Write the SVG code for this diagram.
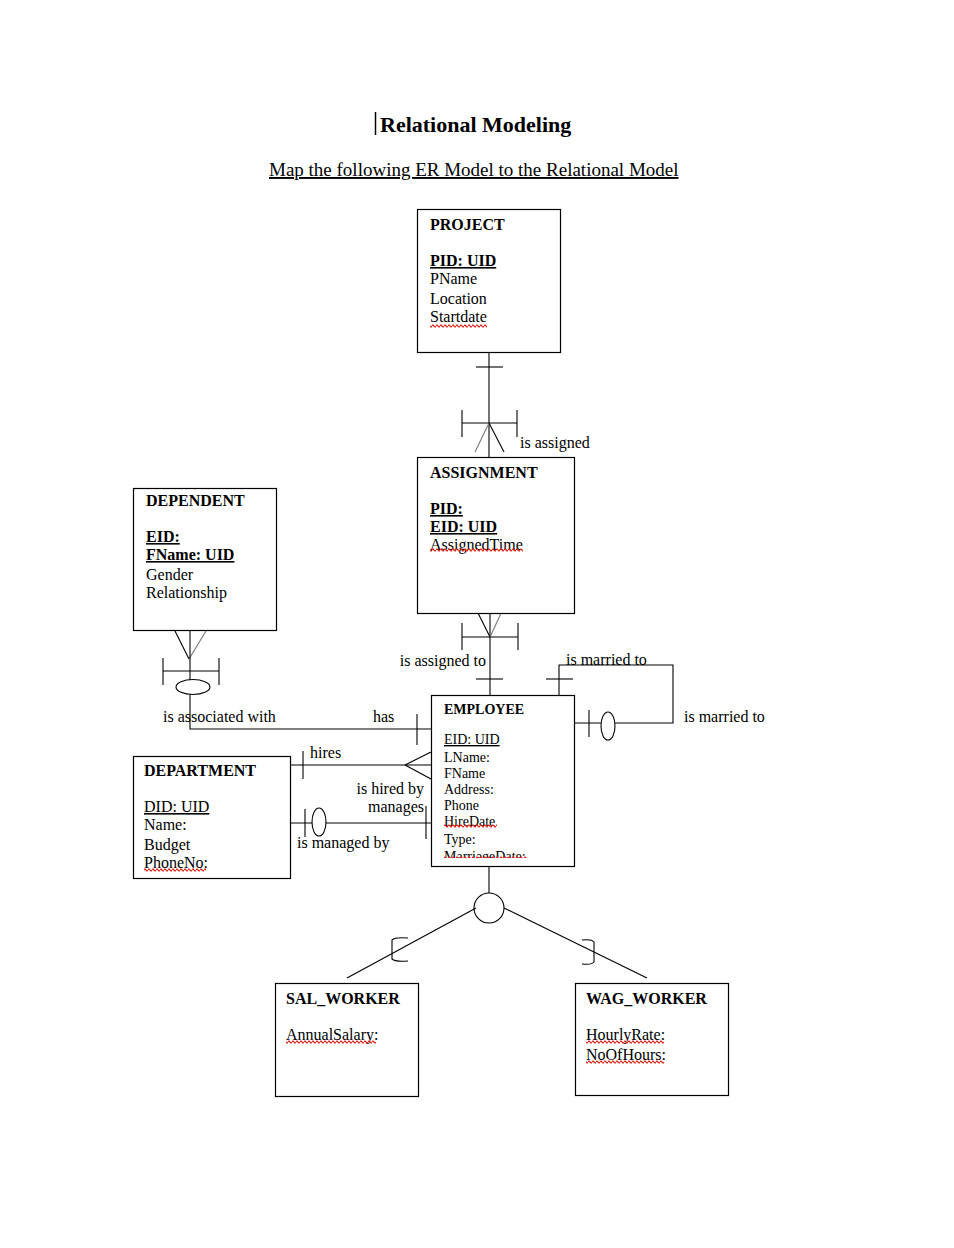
<svg xmlns="http://www.w3.org/2000/svg" width="954" height="1248" viewBox="0 0 954 1248">
<style>
text{font-family:"Liberation Serif","Times New Roman",serif;fill:#000}
.t16{font-size:16px}
.t14{font-size:14px}
.b{font-weight:bold}
.u{text-decoration:underline}
.box{fill:#fff;stroke:#000;stroke-width:1.2}
.ln{stroke:#000;stroke-width:1.1;fill:none}
.gr{stroke:#777;stroke-width:1.1;fill:none}
.sq{fill:url(#sqp)}
</style>
<defs>
<pattern id="sqp" x="0" y="0" width="4" height="4" patternUnits="userSpaceOnUse">
<path d="M0 2 Q1 0.2 2 2 T4 2" fill="none" stroke="#e2231a" stroke-width="1.4"/>
</pattern>
<clipPath id="empclip"><rect x="431" y="695" width="144" height="163"/></clipPath>
</defs>
<rect width="954" height="1248" fill="#fff"/>

<g id="title">
<line x1="375.5" y1="112" x2="375.5" y2="135" stroke="#000" stroke-width="1.5"/>
<text x="380" y="132" class="b" style="font-size:22px">Relational Modeling</text>
<text x="269" y="176" class="u" style="font-size:19px">Map the following ER Model to the Relational Model</text>
</g>

<g id="connectors">
<line class="ln" x1="489" y1="352" x2="489" y2="457"/>
<line class="ln" x1="476" y1="367" x2="503" y2="367"/>
<line class="ln" x1="462" y1="423" x2="517" y2="423"/>
<line class="ln" x1="462" y1="410" x2="462" y2="437"/>
<line class="ln" x1="517" y1="410" x2="517" y2="437"/>
<line class="gr" x1="489" y1="423" x2="475" y2="452"/>
<line class="ln" x1="489" y1="423" x2="504" y2="452"/>
<line class="ln" x1="490" y1="613" x2="490" y2="695"/>
<line class="ln" x1="476" y1="609" x2="490" y2="637"/>
<line class="gr" x1="503" y1="609" x2="490" y2="637"/>
<line class="ln" x1="462" y1="637" x2="518" y2="637"/>
<line class="ln" x1="462" y1="623" x2="462" y2="650"/>
<line class="ln" x1="518" y1="623" x2="518" y2="650"/>
<line class="ln" x1="476" y1="679" x2="503" y2="679"/>
<polyline class="ln" points="559,695 559,665 673,665 673,723 575,723"/>
<line class="ln" x1="546" y1="679" x2="573" y2="679"/>
<line class="ln" x1="589" y1="710" x2="589" y2="737"/>
<ellipse class="ln" cx="608" cy="726" rx="7" ry="14" style="fill:#fff"/>
<line class="ln" x1="175" y1="631" x2="189" y2="659"/>
<line class="gr" x1="206" y1="631" x2="189" y2="659"/>
<line class="ln" x1="190" y1="630" x2="190" y2="680"/>
<line class="ln" x1="163" y1="671" x2="219" y2="671"/>
<line class="ln" x1="163" y1="658" x2="163" y2="685"/>
<line class="ln" x1="219" y1="658" x2="219" y2="685"/>
<ellipse class="ln" cx="193" cy="687" rx="17" ry="7.5"/>
<polyline class="ln" points="190,695 190,729 431,729"/>
<line class="ln" x1="417" y1="714" x2="417" y2="745"/>
<line class="ln" x1="291" y1="765" x2="431" y2="765"/>
<line class="ln" x1="303" y1="751" x2="303" y2="779"/>
<line class="ln" x1="405" y1="765" x2="431" y2="752"/>
<line class="ln" x1="405" y1="765" x2="431" y2="779"/>
<line class="ln" x1="291" y1="823" x2="431" y2="823"/>
<line class="ln" x1="305" y1="809" x2="305" y2="837"/>
<ellipse class="ln" cx="319" cy="822" rx="7" ry="14" style="fill:#fff"/>
<line class="ln" x1="426" y1="806" x2="426" y2="839"/>
<line class="ln" x1="489" y1="866" x2="489" y2="893"/>
<circle class="ln" cx="489" cy="908" r="15"/>
<line class="ln" x1="476" y1="908" x2="347" y2="978"/>
<line class="ln" x1="504" y1="908" x2="647" y2="978"/>
<path class="ln" d="M408 938 Q395 937 392 940 L392 959 Q395 962 408 961"/>
<path class="ln" d="M582 940 Q592 939 594 942 L594 962 Q592 965 582 964"/>
</g>

<g id="labels">
<text x="520" y="448" class="t16">is assigned</text>
<text x="486" y="666" class="t16" text-anchor="end">is assigned to</text>
<text x="566" y="665" class="t16">is married to</text>
<text x="684" y="722" class="t16">is married to</text>
<text x="163" y="722" class="t16">is associated with</text>
<text x="373" y="722" class="t16">has</text>
<text x="310" y="758" class="t16">hires</text>
<text x="424" y="794" class="t16" text-anchor="end">is hired by</text>
<text x="424" y="812" class="t16" text-anchor="end">manages</text>
<text x="297" y="848" class="t16">is managed by</text>
</g>

<g id="project">
<rect class="box" x="417.5" y="209.5" width="143" height="143"/>
<text x="430" y="230" class="t16 b">PROJECT</text>
<text x="430" y="266" class="t16 b u">PID: UID</text>
<text x="430" y="284" class="t16">PName</text>
<text x="430" y="304" class="t16">Location</text>
<text x="430" y="322" class="t16">Startdate</text>
<rect class="sq" x="430" y="324" width="57" height="4"/>
</g>

<g id="assignment">
<rect class="box" x="417.5" y="457.5" width="157" height="156"/>
<text x="430" y="478" class="t16 b">ASSIGNMENT</text>
<text x="430" y="514" class="t16 b u">PID:</text>
<text x="430" y="532" class="t16 b u">EID: UID</text>
<text x="430" y="550" class="t16">AssignedTime</text>
<rect class="sq" x="430" y="548" width="93" height="4"/>
</g>

<g id="dependent">
<rect class="box" x="133.5" y="488.5" width="143" height="142"/>
<text x="146" y="506" class="t16 b">DEPENDENT</text>
<text x="146" y="542" class="t16 b u">EID:</text>
<text x="146" y="560" class="t16 b u">FName: UID</text>
<text x="146" y="580" class="t16">Gender</text>
<text x="146" y="598" class="t16">Relationship</text>
</g>

<g id="employee">
<rect class="box" x="431.5" y="695.5" width="143" height="171"/>
<g clip-path="url(#empclip)">
<text x="444" y="714" class="t14 b">EMPLOYEE</text>
<text x="444" y="744" class="t14 u">EID: UID</text>
<text x="444" y="762" class="t14">LName:</text>
<text x="444" y="778" class="t14">FName</text>
<text x="444" y="794" class="t14">Address:</text>
<text x="444" y="810" class="t14">Phone</text>
<text x="444" y="826" class="t14">HireDate</text>
<rect class="sq" x="444" y="824" width="53" height="4"/>
<text x="444" y="844" class="t14">Type:</text>
<text x="444" y="861" class="t14">MarriageDate:</text>
<rect class="sq" x="444" y="856" width="83" height="4"/>
</g>
</g>

<g id="department">
<rect class="box" x="133.5" y="756.5" width="157" height="122"/>
<text x="144" y="776" class="t16 b">DEPARTMENT</text>
<text x="144" y="812" class="t16 u">DID: UID</text>
<text x="144" y="830" class="t16">Name:</text>
<text x="144" y="850" class="t16">Budget</text>
<text x="144" y="868" class="t16">PhoneNo:</text>
<rect class="sq" x="144" y="868" width="62" height="4"/>
</g>

<g id="sal_worker">
<rect class="box" x="275.5" y="983.5" width="143" height="113"/>
<text x="286" y="1004" class="t16 b">SAL_WORKER</text>
<text x="286" y="1040" class="t16">AnnualSalary:</text>
<rect class="sq" x="286" y="1040" width="90" height="4"/>
</g>

<g id="wag_worker">
<rect class="box" x="575.5" y="983.5" width="153" height="112"/>
<text x="586" y="1004" class="t16 b">WAG_WORKER</text>
<text x="586" y="1040" class="t16">HourlyRate:</text>
<rect class="sq" x="586" y="1040" width="78" height="4"/>
<text x="586" y="1060" class="t16">NoOfHours:</text>
<rect class="sq" x="586" y="1060" width="78" height="4"/>
</g>
</svg>
